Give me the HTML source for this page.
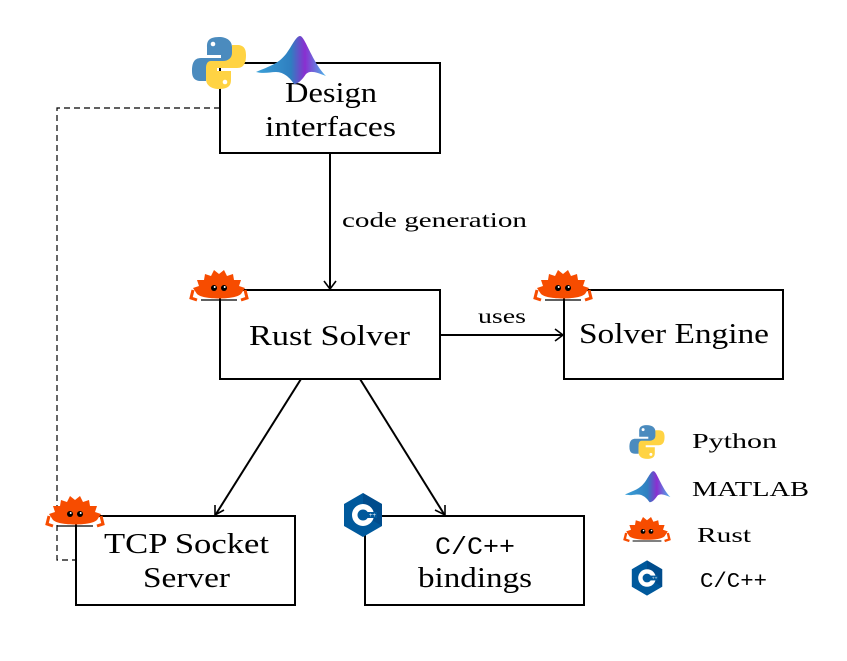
<!DOCTYPE html>
<html><head><meta charset="utf-8"><style>
html,body{margin:0;padding:0;background:#fff;}
svg{display:block}
text{font-family:"Liberation Serif",serif;fill:#000}
.m{font-family:"Liberation Mono",monospace}
</style></head><body>
<svg width="847" height="661" viewBox="0 0 847 661" xmlns="http://www.w3.org/2000/svg">
<defs>
<linearGradient id="mg" x1="0" y1="0" x2="1" y2="0">
<stop offset="0" stop-color="#3aa0d8"/><stop offset="0.5" stop-color="#2f7fc0"/><stop offset="0.7" stop-color="#8a2fd0"/><stop offset="1" stop-color="#4ab6e8"/></linearGradient>
<g id="py">
<path d="M0,-26 C-12,-26 -12,-20 -12,-16 L-12,-8 L2,-8 L2,-5 L-18,-5 C-26,-5 -27,2 -27,8 C-27,14 -25,18 -18,18 L-13,18 L-13,10 C-13,5 -9,2 -4,2 L8,2 C12,2 13,-2 13,-5 L13,-16 C13,-22 8,-26 0,-26Z" fill="#4b8bbe"/>
<path d="M0,26 C12,26 12,20 12,16 L12,8 L-2,8 L-2,5 L18,5 C26,5 27,-2 27,-8 C27,-14 25,-18 18,-18 L13,-18 L13,-10 C13,-5 9,-2 4,-2 L-8,-2 C-12,-2 -13,2 -13,5 L-13,16 C-13,22 -8,26 0,26Z" fill="#ffd343"/>
<circle cx="-6" cy="-19" r="2.3" fill="#fff"/><circle cx="6" cy="19" r="2.3" fill="#fff"/>
</g>
<g id="ml">
<path d="M-34,10 C-20,4 -12,2 -4,-8 C2,-16 6,-26 10,-26 C15,-26 22,0 36,14 C26,10 20,8 16,12 C12,18 8,22 4,22 C0,16 -6,10 -14,10 C-20,10 -26,12 -34,10Z" fill="url(#mg)"/>
</g>
<g id="cr">
<path d="M-22,4 L-26,-2 L-20,-4 L-22,-10 L-15,-10 L-14,-16 L-8,-14 L-5,-20 L0,-16 L5,-20 L8,-14 L14,-16 L15,-10 L22,-10 L20,-4 L26,-2 L22,4 C16,10 -16,10 -22,4Z" fill="#f74c00"/>
<path d="M-26,0 L-28,8 L-22,10 M26,0 L28,8 L22,10" stroke="#f74c00" stroke-width="3" fill="none"/>
<path d="M-18,10 L18,10" stroke="#000" stroke-width="1.2"/>
<circle cx="-5" cy="-2" r="3" fill="#000"/><circle cx="5" cy="-2" r="3" fill="#000"/>
<circle cx="-4.3" cy="-3" r="1" fill="#fff"/><circle cx="5.7" cy="-3" r="1" fill="#fff"/>
</g>
<g id="cp">
<polygon points="0,-22 19,-11 19,11 0,22 -19,11 -19,-11" fill="#00599c"/>
<polygon points="0,-22 19,-11 19,11 0,0" fill="#004482" opacity="0.6"/>
<circle cx="0" cy="0" r="11" fill="#fff"/><circle cx="0" cy="0" r="5.5" fill="#00599c"/>
<rect x="2" y="-3" width="12" height="6" fill="#00599c"/>
<text x="6" y="2" font-size="6" style="fill:#fff;font-family:'Liberation Sans',sans-serif">++</text>
</g>
</defs>
<g fill="none" stroke="#000" stroke-width="2">
<rect x="220" y="63" width="220" height="90"/>
<rect x="220" y="290" width="220" height="89"/>
<rect x="564" y="290" width="219" height="89"/>
<rect x="76" y="516" width="219" height="89"/>
<rect x="365" y="516" width="219" height="89"/>
<line x1="330" y1="153" x2="330" y2="288"/>
<line x1="440" y1="335" x2="562" y2="335"/>
<line x1="301" y1="379" x2="216" y2="514"/>
<line x1="360" y1="379" x2="444" y2="514"/>
</g>
<g fill="none" stroke="#000" stroke-width="1.6">
<path d="M324,281 L330,289 L336,281"/>
<path d="M555,329 L563,335 L555,341"/>
<path d="M215,505 L215,515 L224,510"/>
<path d="M435,510 L445,515 L445,505"/>
</g>
<path d="M220,108 L57,108 L57,560 L76,560" fill="none" stroke="#000" stroke-width="1.2" stroke-dasharray="6,4"/>
<g font-size="28">
<text x="285" y="102" textLength="92" lengthAdjust="spacingAndGlyphs">Design</text>
<text x="265" y="136" textLength="131" lengthAdjust="spacingAndGlyphs">interfaces</text>
<text x="249" y="345" textLength="161" lengthAdjust="spacingAndGlyphs">Rust Solver</text>
<text x="579" y="343" textLength="190" lengthAdjust="spacingAndGlyphs">Solver Engine</text>
<text x="104" y="553" textLength="165" lengthAdjust="spacingAndGlyphs">TCP Socket</text>
<text x="143" y="587" textLength="87" lengthAdjust="spacingAndGlyphs">Server</text>
<text x="435" y="554" class="m" font-size="25" textLength="80" lengthAdjust="spacingAndGlyphs">C/C++</text>
<text x="418" y="587" textLength="114" lengthAdjust="spacingAndGlyphs">bindings</text>
</g>
<text x="342" y="227" font-size="21" textLength="185" lengthAdjust="spacingAndGlyphs">code generation</text>
<text x="478" y="323" font-size="21" textLength="48" lengthAdjust="spacingAndGlyphs">uses</text>
<g font-size="21">
<text x="692" y="448" textLength="85" lengthAdjust="spacingAndGlyphs">Python</text>
<text x="692" y="496" textLength="117" lengthAdjust="spacingAndGlyphs">MATLAB</text>
<text x="697" y="542" textLength="54" lengthAdjust="spacingAndGlyphs">Rust</text>
<text x="700" y="587" class="m" textLength="67" lengthAdjust="spacingAndGlyphs">C/C++</text>
</g>
<use href="#py" transform="translate(219,63)"/>
<use href="#ml" transform="translate(290,62)"/>
<use href="#cr" transform="translate(219,290)"/>
<use href="#cr" transform="translate(563,290)"/>
<use href="#cr" transform="translate(75,516)"/>
<use href="#cp" transform="translate(363,515)"/>
<use href="#py" transform="translate(647,442) scale(0.65)"/>
<use href="#ml" transform="translate(647,488) scale(0.65)"/>
<use href="#cr" transform="translate(647,533) scale(0.8)"/>
<use href="#cp" transform="translate(647,578) scale(0.8)"/>
</svg>
</body></html>
